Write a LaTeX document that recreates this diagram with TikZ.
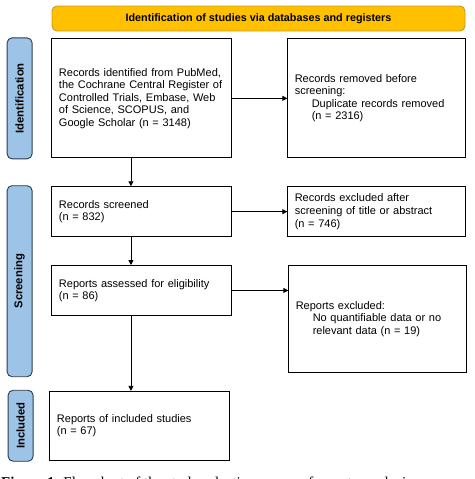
\documentclass[tikz,border=0pt]{standalone}
\usepackage{fontspec}
\setsansfont{Liberation Sans}
\setmainfont{Liberation Serif}
\usepackage{graphicx}
\usepackage{tikz}
\usetikzlibrary{positioning,arrows.meta}

\definecolor{bannerfill}{HTML}{FFC000}
\definecolor{bannerline}{HTML}{C89B1E}
\definecolor{barfill}{HTML}{9DC3E6}
\definecolor{barline}{HTML}{2B3B4E}

\begin{document}
\begin{tikzpicture}[
    x=1pt, y=1pt,
    font=\sffamily\fontsize{11}{12.5}\selectfont,
    node distance=28pt and 56pt,
    box/.style={draw, line width=0.8pt, inner xsep=8pt, inner ysep=4pt,
                text width=164pt, align=left},
    rbox/.style={box, inner xsep=7pt},
    banner/.style={draw=bannerline, fill=bannerfill, line width=0.9pt,
                rounded corners=5pt, minimum width=413pt, minimum height=25pt,
                font=\sffamily\bfseries\fontsize{10.8}{12}\selectfont},
    stage/.style={draw=barline, fill=barfill, line width=0.9pt,
                rounded corners=5pt, minimum width=25pt, inner sep=0pt,
                font=\sffamily\bfseries\fontsize{11.3}{12}\selectfont},
    arr/.style={-{Triangle[length=5pt,width=5pt]}, line width=0.8pt}
  ]
    \useasboundingbox (0,0) rectangle (474,-479);
    \node[banner] (head) at (258.5,-18.5)
      {Identification of studies via databases and registers};
    \node[box, minimum height=119pt, below right=7pt and -1pt of head.south west] (rid)
      {Records identified from PubMed,\\ the Cochrane Central Register of\\
       Controlled Trials, Embase, Web\\ of Science, SCOPUS, and\\
       Google Scholar (n = 3148)};
    \node[rbox, minimum height=119pt, right=of rid] (rem)
      {Records removed before\\ screening:\\
       \hspace*{17pt}Duplicate records removed\\ \hspace*{17pt}(n = 2316)};
    \node[box, minimum height=50pt, below=of rid] (scr)
      {Records screened\\ (n = 832)};
    \node[rbox, minimum height=50pt, right=of scr] (ex1)
      {Records excluded after\\ screening of title or abstract\\ (n = 746)};
    \node[box, minimum height=50pt, below=of scr] (elig)
      {Reports assessed for eligibility\\ (n = 86)};
    \node[rbox, minimum height=107pt, right=57pt of elig.north east, anchor=north west] (ex2)
      {Reports excluded:\\ \hspace*{17pt}No quantifiable data or no\\
       \hspace*{17pt}relevant data (n = 19)};
    \node[box, minimum height=69pt, below=75pt of elig, xshift=-2pt] (incl)
      {Reports of included studies\\ (n = 67)};

    \node[stage, minimum height=121pt, left=18pt of rid] (sid)
      {\rotatebox{90}{Identification}};
    \node[stage, minimum height=191pt, below left=-1pt and 18pt of scr.north west] (sscr)
      {\rotatebox{90}{Screening}};
    \node[stage, minimum height=71pt, left=15pt of incl] (sinc)
      {\rotatebox{90}{Included}};

    \draw[arr] (rid) -- (rem);
    \draw[arr] (scr) -- (ex1);
    \draw[arr] (elig.east) -- (elig.east -| ex2.west);
    \draw[arr] ([xshift=-10pt]rid.south) -- ([xshift=-10pt]scr.north);
    \draw[arr] ([xshift=-10pt]scr.south) -- ([xshift=-10pt]elig.north);
    \draw[arr] ([xshift=-10pt]elig.south) -- ([xshift=-10pt]elig.south |- incl.north);

    \node[anchor=north west, inner sep=0pt, font=\rmfamily\fontsize{15}{17}\selectfont]
      (cap) at (1,-476.5)
      {\textbf{Figure 1.} Flowchart of the study selection process for meta-analysis};
  \end{tikzpicture}
\end{document}
